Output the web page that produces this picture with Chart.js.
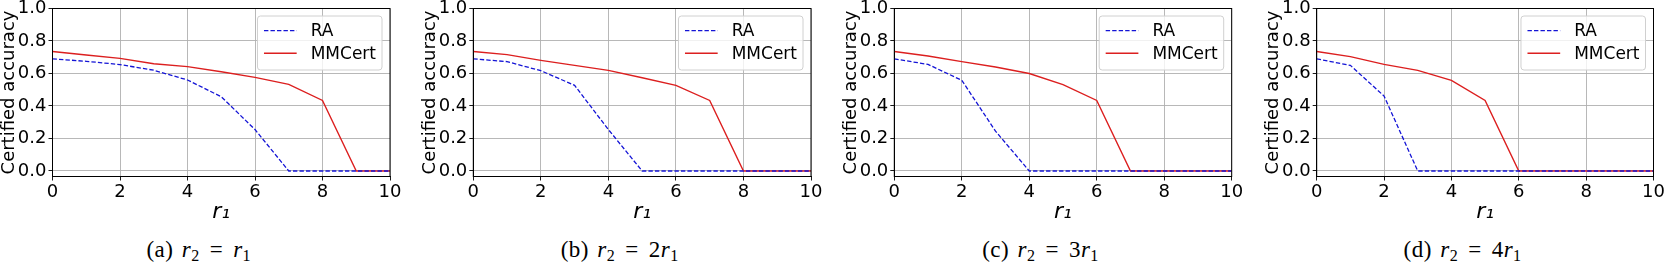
<!DOCTYPE html>
<html lang="en">
<head>
  <meta charset="UTF-8">
  <script src="https://cdn.jsdelivr.net/npm/chart.js"></script>
  <title>Certified accuracy vs r1</title>
  <style>
    body {
      margin: 0;
      width: 1666px;
      height: 268px;
      background: #fff;
      position: relative;
      overflow: hidden;
    }
    .panel {
      position: absolute;
      top: 0;
    }
    .caption {
      position: absolute;
      top: 237px;
      font-family: "Liberation Serif", serif;
      font-size: 23px;
      letter-spacing: 0.5px;
      white-space: nowrap;
      transform: translateX(-50%);
    }
    .caption i { font-style: italic; }
    .caption sub { font-size: 16px; vertical-align: -4px; font-style: normal; }
    .caption .eq { margin: 0 10px; }
    .caption .lbl { margin-right: 2px; }
  </style>
</head>
<body>

  <div id="panels"></div>

  <script>
    // x values (r1) shared by every panel
    const rValues = [0, 1, 2, 3, 4, 5, 6, 7, 8, 9, 10];

    // (a) r2 = r1
    const raA = [0.690, 0.675, 0.655, 0.620, 0.560, 0.457, 0.255, 0, 0, 0, 0];
    const mmA = [0.735, 0.714, 0.693, 0.660, 0.642, 0.611, 0.576, 0.533, 0.434, 0, 0];
    // (b) r2 = 2r1
    const raB = [0.690, 0.673, 0.617, 0.527, 0.255, 0, 0, 0, 0, 0, 0];
    const mmB = [0.735, 0.716, 0.681, 0.650, 0.619, 0.574, 0.527, 0.434, 0, 0, 0];
    // (c) r2 = 3r1
    const raC = [0.690, 0.656, 0.558, 0.245, 0, 0, 0, 0, 0, 0, 0];
    const mmC = [0.735, 0.708, 0.673, 0.640, 0.600, 0.531, 0.434, 0, 0, 0, 0];
    // (d) r2 = 4r1
    const raD = [0.690, 0.650, 0.461, 0, 0, 0, 0, 0, 0, 0, 0];
    const mmD = [0.735, 0.704, 0.656, 0.619, 0.558, 0.434, 0, 0, 0, 0, 0];

    const xTicks = [0, 2, 4, 6, 8, 10];
    const yTicks = [0.0, 0.2, 0.4, 0.6, 0.8, 1.0];
    const seriesNames = ["RA", "MMCert"];
    const captionLetters = ["a", "b", "c", "d"];
    const captionFactors = ["", "2", "3", "4"];

    const panels = [
      { ra: raA, mm: mmA, left: 52.5, right: 390 },
      { ra: raB, mm: mmB, left: 473.3, right: 811 },
      { ra: raC, mm: mmC, left: 894.3, right: 1231.7 },
      { ra: raD, mm: mmD, left: 1316.7, right: 1653.5 }
    ];

    const PLOT_TOP = 8.5;
    const PLOT_BOTTOM = 176.5;
    const CANVAS_H = 236;
    const PAD_RIGHT = 12;
    const FONT = "'DejaVu Sans', sans-serif";

    // box on all four sides + legend in the upper right corner, matplotlib style
    const frameAndLegend = {
      id: "frameAndLegend",
      afterDatasetsDraw(chart) {
        const ctx = chart.ctx;
        const a = chart.chartArea;
        ctx.save();
        ctx.strokeStyle = "#000";
        ctx.lineWidth = 1;
        ctx.strokeRect(a.left, a.top, a.right - a.left, a.bottom - a.top);

        // legend
        ctx.font = "17px " + FONT;
        const textW = Math.max(...chart.data.datasets.map(d => ctx.measureText(d.label).width));
        const pad = 6.5, handle = 32.7, gap = 14, rowH = 22.6;
        const boxW = pad + handle + gap + textW + 6;
        const boxH = 54;
        const bx = a.right - 8 - boxW;
        const by = a.top + 7.5;
        ctx.beginPath();
        ctx.roundRect(bx, by, boxW, boxH, 3);
        ctx.fillStyle = "rgba(255,255,255,0.8)";
        ctx.fill();
        ctx.strokeStyle = "#d0d0d0";
        ctx.lineWidth = 1;
        ctx.stroke();

        chart.data.datasets.forEach((d, i) => {
          const cy = by + 14.7 + i * rowH;
          ctx.beginPath();
          ctx.setLineDash(d.borderDash || []);
          ctx.strokeStyle = d.borderColor;
          ctx.lineWidth = d.borderWidth;
          ctx.moveTo(bx + pad, cy);
          ctx.lineTo(bx + pad + handle, cy);
          ctx.stroke();
          ctx.setLineDash([]);
          ctx.fillStyle = "#000";
          ctx.textBaseline = "middle";
          ctx.textAlign = "left";
          ctx.fillText(d.label, bx + pad + handle + gap, cy + 1);
        });
        ctx.restore();
      }
    };

    function makePanel(p, idx) {
      const host = document.getElementById("panels");
      const canvasLeft = Math.round(p.left - 52.5);
      const yAxisW = p.left - canvasLeft;
      const plotW = p.right - p.left;
      const canvasW = Math.round(yAxisW + plotW + PAD_RIGHT);

      const div = document.createElement("div");
      div.className = "panel";
      div.style.left = canvasLeft + "px";
      div.style.width = canvasW + "px";
      div.style.height = CANVAS_H + "px";
      const canvas = document.createElement("canvas");
      canvas.width = canvasW;
      canvas.height = CANVAS_H;
      div.appendChild(canvas);
      host.appendChild(div);

      new Chart(canvas, {
        type: "line",
        data: {
          datasets: [
            {
              label: seriesNames[0],
              data: rValues.map((x, i) => ({ x: x, y: p.ra[i] })),
              borderColor: "#1414d6",
              borderWidth: 1.3,
              borderDash: [4.4, 2.1],
              pointRadius: 0,
              tension: 0
            },
            {
              label: seriesNames[1],
              data: rValues.map((x, i) => ({ x: x, y: p.mm[i] })),
              borderColor: "#dc1f1f",
              borderWidth: 1.4,
              pointRadius: 0,
              tension: 0
            }
          ]
        },
        options: {
          responsive: false,
          animation: false,
          layout: { padding: { left: 0, top: PLOT_TOP, right: canvasW - yAxisW - plotW, bottom: 0 } },
          plugins: { legend: { display: false }, tooltip: { enabled: false } },
          scales: {
            x: {
              type: "linear",
              min: 0,
              max: 10,
              afterBuildTicks: s => { s.ticks = xTicks.map(v => ({ value: v })); },
              afterFit: s => {
                s.height = CANVAS_H - PLOT_BOTTOM;
                s.paddingLeft = 0; s.paddingRight = 0;
              },
              ticks: {
                color: "#000",
                font: { family: FONT, size: 18 },
                padding: 1,
                maxRotation: 0,
                callback: v => String(v)
              },
              grid: { color: "#b0b0b0", lineWidth: 0.9, tickColor: "#000", tickLength: 4 },
              border: { color: "#000", width: 1 },
              title: {
                display: true,
                text: "r\u2081",
                color: "#000",
                font: { family: FONT, size: 22, style: "italic", lineHeight: 1 },
                padding: { top: 0, bottom: 13 }
              }
            },
            y: {
              min: -0.034,
              max: 1.0,
              afterBuildTicks: s => { s.ticks = yTicks.map(v => ({ value: v })); },
              afterFit: s => {
                s.width = yAxisW;
                s.paddingTop = 0; s.paddingBottom = 0;
              },
              ticks: {
                color: "#000",
                font: { family: FONT, size: 18 },
                padding: 2,
                callback: v => v.toFixed(1)
              },
              grid: { color: "#b0b0b0", lineWidth: 0.9, tickColor: "#000", tickLength: 4 },
              border: { color: "#000", width: 1 },
              title: {
                display: true,
                text: "Certified accuracy",
                color: "#000",
                font: { family: FONT, size: 18, lineHeight: 1 },
                padding: 0
              }
            }
          }
        },
        plugins: [frameAndLegend]
      });

      const cap = document.createElement("div");
      cap.className = "caption";
      cap.style.left = ((p.left + p.right) / 2 - 22.5) + "px";
      cap.innerHTML = "<span class=\"lbl\">(" + captionLetters[idx] + ")</span> <i>r</i><sub>2</sub><span class=\"eq\">=</span>" +
        captionFactors[idx] + "<i>r</i><sub>1</sub>";
      host.appendChild(cap);
    }

    panels.forEach(makePanel);
  </script>

</body>
</html>
